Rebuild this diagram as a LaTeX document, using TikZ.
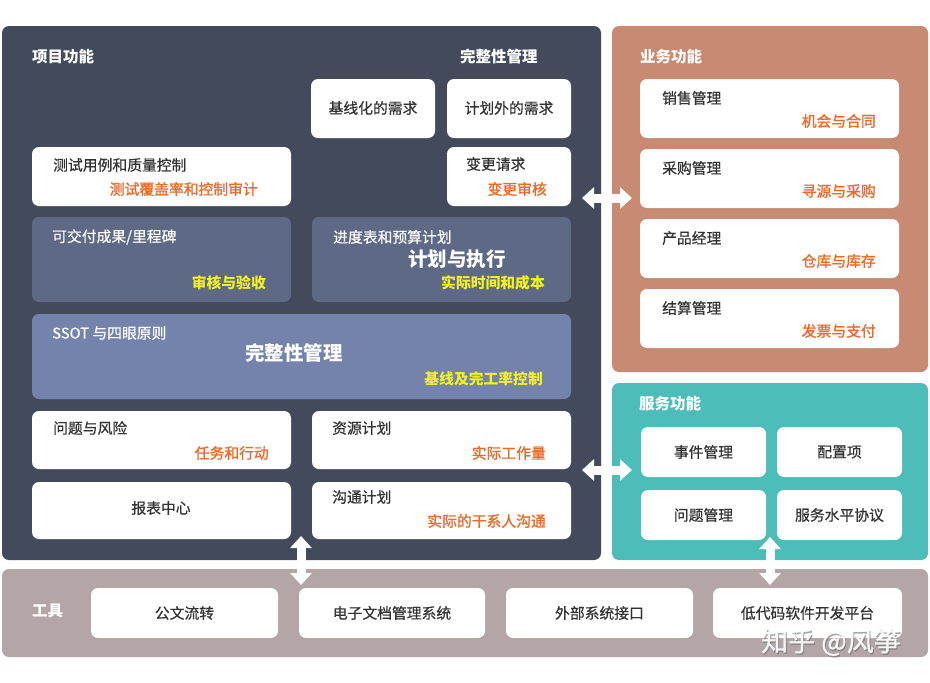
\documentclass[tikz,border=0pt]{standalone}
\usepackage{fontspec}
\setmainfont{Noto Sans CJK SC}
\newfontfamily\medfont{Noto Sans CJK SC}[FakeBold=0.6]
\newfontfamily\semifont{Noto Sans CJK SC}[FakeBold=1.4]
\usetikzlibrary{arrows.meta,shadows}
\definecolor{panelA}{HTML}{424A5B}
\definecolor{panelB}{HTML}{C88A72}
\definecolor{panelC}{HTML}{4CBDB8}
\definecolor{panelD}{HTML}{B4A6A6}
\definecolor{slateA}{HTML}{5E6986}
\definecolor{slateB}{HTML}{7383AC}
\definecolor{txtdark}{HTML}{333333}
\definecolor{txtorange}{HTML}{EA6B2C}
\definecolor{txtyellow}{HTML}{F3F21F}
\newcommand\mkbox[6]{\node[#2, minimum width={(#5-#3)*1pt}, minimum height={(#6-#4)*1pt}] (#1) at ({(#3+#5)/2},{(#4+#6)/2}) {};}
\begin{document}
\begin{tikzpicture}[x=1pt,y=-1pt,
  panel/.style={rounded corners=7pt, inner sep=0pt, outer sep=0pt},
  wbox/.style={rounded corners=7pt, fill=white, inner sep=0pt, outer sep=0pt,
    drop shadow={opacity=0.12, shadow xshift=0pt, shadow yshift=-1pt}},
  sbox/.style={rounded corners=7pt, inner sep=0pt, outer sep=0pt},
  ptitle/.style={font=\fontsize{15.5}{18}\selectfont\bfseries, text=white, inner sep=0pt},
  ttl/.style={font=\fontsize{14.8}{17}\selectfont\medfont, text=txtdark, inner sep=0pt},
  wttl/.style={font=\fontsize{14.8}{17}\selectfont\medfont, text=white, inner sep=0pt},
  sub/.style={font=\fontsize{14.8}{17}\selectfont\semifont, text=txtorange, inner sep=0pt},
  ysub/.style={font=\fontsize{14.8}{17}\selectfont\bfseries, text=txtyellow, inner sep=0pt},
  big/.style={font=\fontsize{19.5}{22}\selectfont\bfseries, text=white, inner sep=0pt},
  ctr/.style={font=\fontsize{14.8}{17}\selectfont\medfont, text=txtdark, inner sep=0pt},
  blockarrow/.style={draw=white, line width=9pt,
    {Triangle[length=12pt,width=21pt]}-{Triangle[length=12pt,width=21pt]}}
]
\useasboundingbox (0,0) rectangle (930,683);
\fill[white] (0,0) rectangle (930,683);

% panels
\mkbox{pA}{panel, fill=panelA}{2}{26}{601}{560}
\mkbox{pB}{panel, fill=panelB}{612}{26}{928}{372}
\mkbox{pC}{panel, fill=panelC}{612}{383}{928}{560}
\mkbox{pD}{panel, fill=panelD}{2}{569}{928}{657}

\node[ptitle, anchor=west] (tA) at (32,57) {项目功能};
\node[ptitle, anchor=west] (tA2) at (460,57) {完整性管理};
\node[ptitle, anchor=west] (tB) at (640,57) {业务功能};
\node[ptitle, anchor=west] (tC) at (639,404) {服务功能};
\node[ptitle, anchor=west] (tD) at (32,611) {工具};

% project boxes
\mkbox{b1}{wbox}{311}{79}{435}{138}
\node[ctr] (b1t) at (373,108) {基线化的需求};
\mkbox{b2}{wbox}{447}{79}{571}{138}
\node[ctr] (b2t) at (509,108) {计划外的需求};

\mkbox{b3}{wbox}{32}{147}{291}{206}
\node[ttl, anchor=west] (b3t) at (53,165) {测试用例和质量控制};
\node[sub, anchor=east] (b3s) at (258,189) {测试覆盖率和控制审计};

\mkbox{b4}{wbox}{447}{147}{571}{206}
\node[ttl, anchor=west] (b4t) at (466,164) {变更请求};
\node[sub, anchor=east] (b4s) at (547,189) {变更审核};

\mkbox{b5}{sbox, fill=slateA}{32}{217}{291}{302}
\node[wttl, anchor=west] (b5t) at (52,237) {可交付成果/里程碑};
\node[ysub, anchor=east] (b5s) at (266,283) {审核与验收};

\mkbox{b6}{sbox, fill=slateA}{312}{217}{571}{302}
\node[wttl, anchor=west] (b6t) at (333,237) {进度表和预算计划};
\node[big] (b6b) at (457,259) {计划与执行};
\node[ysub, anchor=east] (b6s) at (545,283) {实际时间和成本};

\mkbox{b7}{sbox, fill=slateB}{32}{314}{571}{399}
\node[wttl, anchor=west] (b7t) at (52,333) {SSOT 与四眼原则};
\node[big] (b7b) at (294,353) {完整性管理};
\node[ysub, anchor=east] (b7s) at (543,379) {基线及完工率控制};

\mkbox{b8}{wbox}{32}{411}{291}{469}
\node[ttl, anchor=west] (b8t) at (53,428) {问题与风险};
\node[sub, anchor=east] (b8s) at (269,453) {任务和行动};

\mkbox{b9}{wbox}{312}{411}{571}{469}
\node[ttl, anchor=west] (b9t) at (332,428) {资源计划};
\node[sub, anchor=east] (b9s) at (546,453) {实际工作量};

\mkbox{b10}{wbox}{32}{482}{291}{539}
\node[ctr] (b10t) at (161,508) {报表中心};

\mkbox{b11}{wbox}{312}{482}{571}{539}
\node[ttl, anchor=west] (b11t) at (332,497) {沟通计划};
\node[sub, anchor=east] (b11s) at (546,521) {实际的干系人沟通};

% business boxes
\mkbox{c1}{wbox}{640}{79}{899}{138}
\node[ttl, anchor=west] (c1t) at (662,98) {销售管理};
\node[sub, anchor=east] (c1s) at (876,121) {机会与合同};
\mkbox{c2}{wbox}{640}{149}{899}{208}
\node[ttl, anchor=west] (c2t) at (662,168) {采购管理};
\node[sub, anchor=east] (c2s) at (876,191) {寻源与采购};
\mkbox{c3}{wbox}{640}{219}{899}{278}
\node[ttl, anchor=west] (c3t) at (662,238) {产品经理};
\node[sub, anchor=east] (c3s) at (876,261) {仓库与库存};
\mkbox{c4}{wbox}{640}{289}{899}{348}
\node[ttl, anchor=west] (c4t) at (662,308) {结算管理};
\node[sub, anchor=east] (c4s) at (876,331) {发票与支付};

% service boxes
\mkbox{d1}{wbox}{641}{427}{766}{477}
\node[ctr] (d1t) at (703.5,452) {事件管理};
\mkbox{d2}{wbox}{777}{427}{902}{477}
\node[ctr] (d2t) at (839.5,452) {配置项};
\mkbox{d3}{wbox}{641}{490}{766}{540}
\node[ctr] (d3t) at (703.5,515) {问题管理};
\mkbox{d4}{wbox}{777}{490}{902}{540}
\node[ctr] (d4t) at (839.5,515) {服务水平协议};

% tool boxes
\mkbox{e1}{wbox}{91}{588}{278}{638}
\node[ctr] (e1t) at (184.5,613) {公文流转};
\mkbox{e2}{wbox}{299}{588}{485}{638}
\node[ctr] (e2t) at (392,613) {电子文档管理系统};
\mkbox{e3}{wbox}{506}{588}{693}{638}
\node[ctr] (e3t) at (599.5,613) {外部系统接口};
\mkbox{e4}{wbox}{713}{588}{902}{638}
\node[ctr] (e4t) at (807.5,613) {低代码软件开发平台};

% arrows
\coordinate (h1a) at (582,198); \coordinate (h1b) at (632,198);
\coordinate (h2a) at (582,470); \coordinate (h2b) at (632,470);
\coordinate (v1a) at (301,536); \coordinate (v1b) at (301,585);
\coordinate (v2a) at (770,537); \coordinate (v2b) at (770,585);
\draw[blockarrow] (h1a) -- (h1b);
\draw[blockarrow] (h2a) -- (h2b);
\draw[blockarrow] (v1a) -- (v1b);
\draw[blockarrow] (v2a) -- (v2b);

% watermark
\node[font=\fontsize{27}{30}\selectfont\medfont, text=black!55, opacity=0.6, inner sep=0pt] (wms) at (832,643.5) {知乎 @风筝};
\node[font=\fontsize{27}{30}\selectfont\medfont, text=white, opacity=0.92, inner sep=0pt] (wm) at (831,642) {知乎 @风筝};
\end{tikzpicture}
\end{document}
